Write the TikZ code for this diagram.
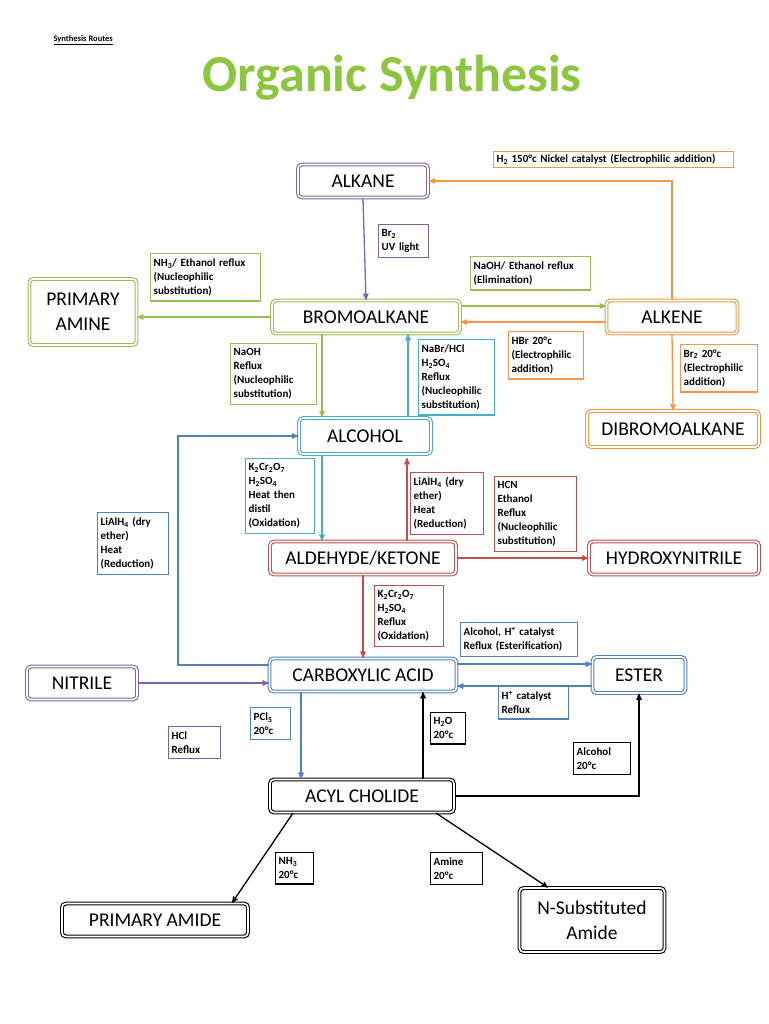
\documentclass[tikz,border=0pt]{standalone}
\usepackage{fontspec}
\setmainfont{Carlito}
\usepackage{tikz}
\usetikzlibrary{arrows,positioning}
\definecolor{cpurple}{HTML}{8064A2}
\definecolor{cgreen}{HTML}{9BBB59}
\definecolor{corange}{HTML}{F79646}
\definecolor{cteal}{HTML}{4BACC6}
\definecolor{cred}{HTML}{C0504D}
\definecolor{cblue}{HTML}{4F81BD}
\definecolor{ctitle}{HTML}{8CC63F}
\newcommand{\sbs}[1]{\textsubscript{#1}}
\newcommand{\sps}[1]{\textsuperscript{#1}}
\tikzset{
    >=stealth',
    compound/.style={
        shape=rectangle,
        rounded corners=4pt,
        draw=#1, double=white, double distance=1.6pt, line width=1.1pt,
        minimum height=33pt,
        align=center,
        font={\fontsize{19.5pt}{23pt}\selectfont}
    },
    reagent/.style={
        shape=rectangle,
        draw=#1, line width=1.3pt,
        anchor=north west,
        align=left, inner xsep=3pt, inner ysep=5pt,
        font={\fontsize{11pt}{14pt}\selectfont\bfseries}
    },
    route/.style={draw=#1, line width=1.3pt, ->},
}
\begin{document}
\begin{tikzpicture}[x=1pt,y=-1pt]
\useasboundingbox (0,0) rectangle (768,1024);
\node[anchor=west, font=\fontsize{8.5pt}{9pt}\selectfont\bfseries] (sub) at (50,40) {\underline{Synthesis Routes}};
\node[font=\fontsize{52pt}{56pt}\selectfont\bfseries, text=ctitle] (title) at (392,78) {Organic Synthesis};
% compounds
\node[compound=cpurple, minimum width=130pt] (alkane) at (363,181) {ALKANE};
\node[compound=cgreen, minimum width=188pt] (bromo) at (366,317) {BROMOALKANE};
\node[compound=cgreen, minimum width=107pt, minimum height=66pt] (amine) at (83,312) {PRIMARY\\[2pt]AMINE};
\node[compound=corange, minimum width=131pt] (alkene) at (672,317) {ALKENE};
\node[compound=corange, minimum width=172pt, minimum height=36pt] (dibromo) at (673,429) {DIBROMOALKANE};
\node[compound=cteal, minimum width=132pt, minimum height=36pt] (alcohol) at (365,436) {ALCOHOL};
\node[compound=cred, minimum width=186pt] (carbonyl) at (363,558) {ALDEHYDE/KETONE};
\node[compound=cred, minimum width=170pt] (hydroxy) at (674,558) {HYDROXYNITRILE};
\node[compound=cblue, minimum width=187pt] (acid) at (363,675) {CARBOXYLIC ACID};
\node[compound=cblue, minimum width=93pt, minimum height=36pt] (ester) at (639,675) {ESTER};
\node[compound=cpurple, minimum width=110pt] (nitrile) at (82,683) {NITRILE};
\node[compound=black, minimum width=184pt] (acyl) at (362,796) {ACYL CHOLIDE};
\node[compound=black, minimum width=186pt] (pamide) at (155,920) {PRIMARY AMIDE};
\node[compound=black, minimum width=145pt, minimum height=64pt] (namide) at (592,920) {N-Substituted\\[2pt]Amide};
% reagents
\node[reagent=cpurple, text width=44pt] (r1) at (378,224) {Br\sbs{2}\\UV light};
\node[reagent=corange, text width=234pt, inner ysep=3pt] (r2) at (493,151) {H\sbs{2} 150°c Nickel catalyst (Electrophilic addition)};
\node[reagent=cgreen, text width=114pt] (r3) at (470,256) {NaOH/ Ethanol reflux\\(Elimination)};
\node[reagent=corange, text width=69pt] (r4) at (508,331) {HBr 20°c\\(Electrophilic\\addition)};
\node[reagent=cgreen, text width=104pt] (r5) at (150,253) {NH\sbs{3}/ Ethanol reflux\\(Nucleophilic\\substitution)};
\node[reagent=cgreen, text width=80pt] (r6) at (230,343) {NaOH\\Reflux\\(Nucleophilic\\substitution)};
\node[reagent=cteal, text width=70pt] (r7) at (418,339) {NaBr/HCl\\H\sbs{2}SO\sbs{4}\\Reflux\\(Nucleophilic\\substitution)};
\node[reagent=corange, text width=71pt] (r8) at (680,344) {Br\sbs{2} 20°c\\(Electrophilic\\addition)};
\node[reagent=cteal, text width=63pt] (r9) at (245,458) {K\sbs{2}Cr\sbs{2}O\sbs{7}\\H\sbs{2}SO\sbs{4}\\Heat then\\distil\\(Oxidation)};
\node[reagent=cred, text width=67pt] (r10) at (410,472) {LiAlH\sbs{4} (dry\\ether)\\Heat\\(Reduction)};
\node[reagent=cred, text width=76pt] (r11) at (494,476) {HCN\\Ethanol\\Reflux\\(Nucleophilic\\substitution)};
\node[reagent=cred, text width=63pt] (r12) at (374,585) {K\sbs{2}Cr\sbs{2}O\sbs{7}\\H\sbs{2}SO\sbs{4}\\Reflux\\(Oxidation)};
\node[reagent=cblue, text width=65pt] (r13) at (97,512) {LiAlH\sbs{4} (dry\\ether)\\Heat\\(Reduction)};
\node[reagent=cblue, text width=111pt] (r14) at (460,622) {Alcohol, H\sps{+} catalyst\\Reflux (Esterification)};
\node[reagent=cblue, text width=64pt] (r15) at (498,686) {H\sps{+} catalyst\\Reflux};
\node[reagent=cpurple, text width=46pt] (r16) at (168,726) {HCl\\Reflux};
\node[reagent=cblue, text width=34pt] (r17) at (250,707) {PCl\sbs{5}\\20°c};
\node[reagent=black, text width=29pt] (r18) at (430,712) {H\sbs{2}O\\20°c};
\node[reagent=black, text width=51pt] (r19) at (573,742) {Alcohol\\20°c};
\node[reagent=black, text width=32pt] (r20) at (275,852) {NH\sbs{3}\\20°c};
\node[reagent=black, text width=46pt] (r21) at (430,852) {Amine\\20°c};
% routes
\draw[route=cpurple] (alkane.south) -- (bromo.north);
\draw[route=corange] (alkene.north) |- (alkane.east);
\draw[route=cgreen] (bromo.east |- 0,306) -- (alkene.west |- 0,306);
\draw[route=corange] (alkene.west |- 0,322) -- (bromo.east |- 0,322);
\draw[route=cgreen] (bromo.west) -- (amine.east |- bromo.west);
\draw[route=cgreen] (322,0 |- bromo.south) -- (322,0 |- alcohol.north);
\draw[route=cteal] (408,0 |- alcohol.north) -- (408,0 |- bromo.south);
\draw[route=corange] (alkene.south) -- (dibromo.north);
\draw[route=cteal] (322,0 |- alcohol.south) -- (322,0 |- carbonyl.north);
\draw[route=cred] (407,0 |- carbonyl.north) -- (407,458);
\draw[route=cred] (carbonyl.east) -- (hydroxy.west);
\draw[route=cred] (carbonyl.south) -- (acid.north);
\draw[route=cblue] (acid.west |- 0,665) -| (178,436) -- (alcohol.west);
\draw[route=cpurple] (nitrile.east) -- (acid.west |- nitrile.east);
\draw[route=cblue] (acid.east |- 0,664) -- (ester.west |- 0,664);
\draw[route=cblue] (ester.west |- 0,686) -- (acid.east |- 0,686);
\draw[route=cblue] (301,0 |- acid.south) -- (301,0 |- acyl.north);
\draw[route=black] (423,0 |- acyl.north) -- (423,0 |- acid.south);
\draw[route=black] (acyl.east) -| (ester.south);
\draw[route=black] (293,0 |- acyl.south) -- (232,0 |- pamide.north);
\draw[route=black] (436,0 |- acyl.south) -- (548,0 |- namide.north);
\end{tikzpicture}
\end{document}
